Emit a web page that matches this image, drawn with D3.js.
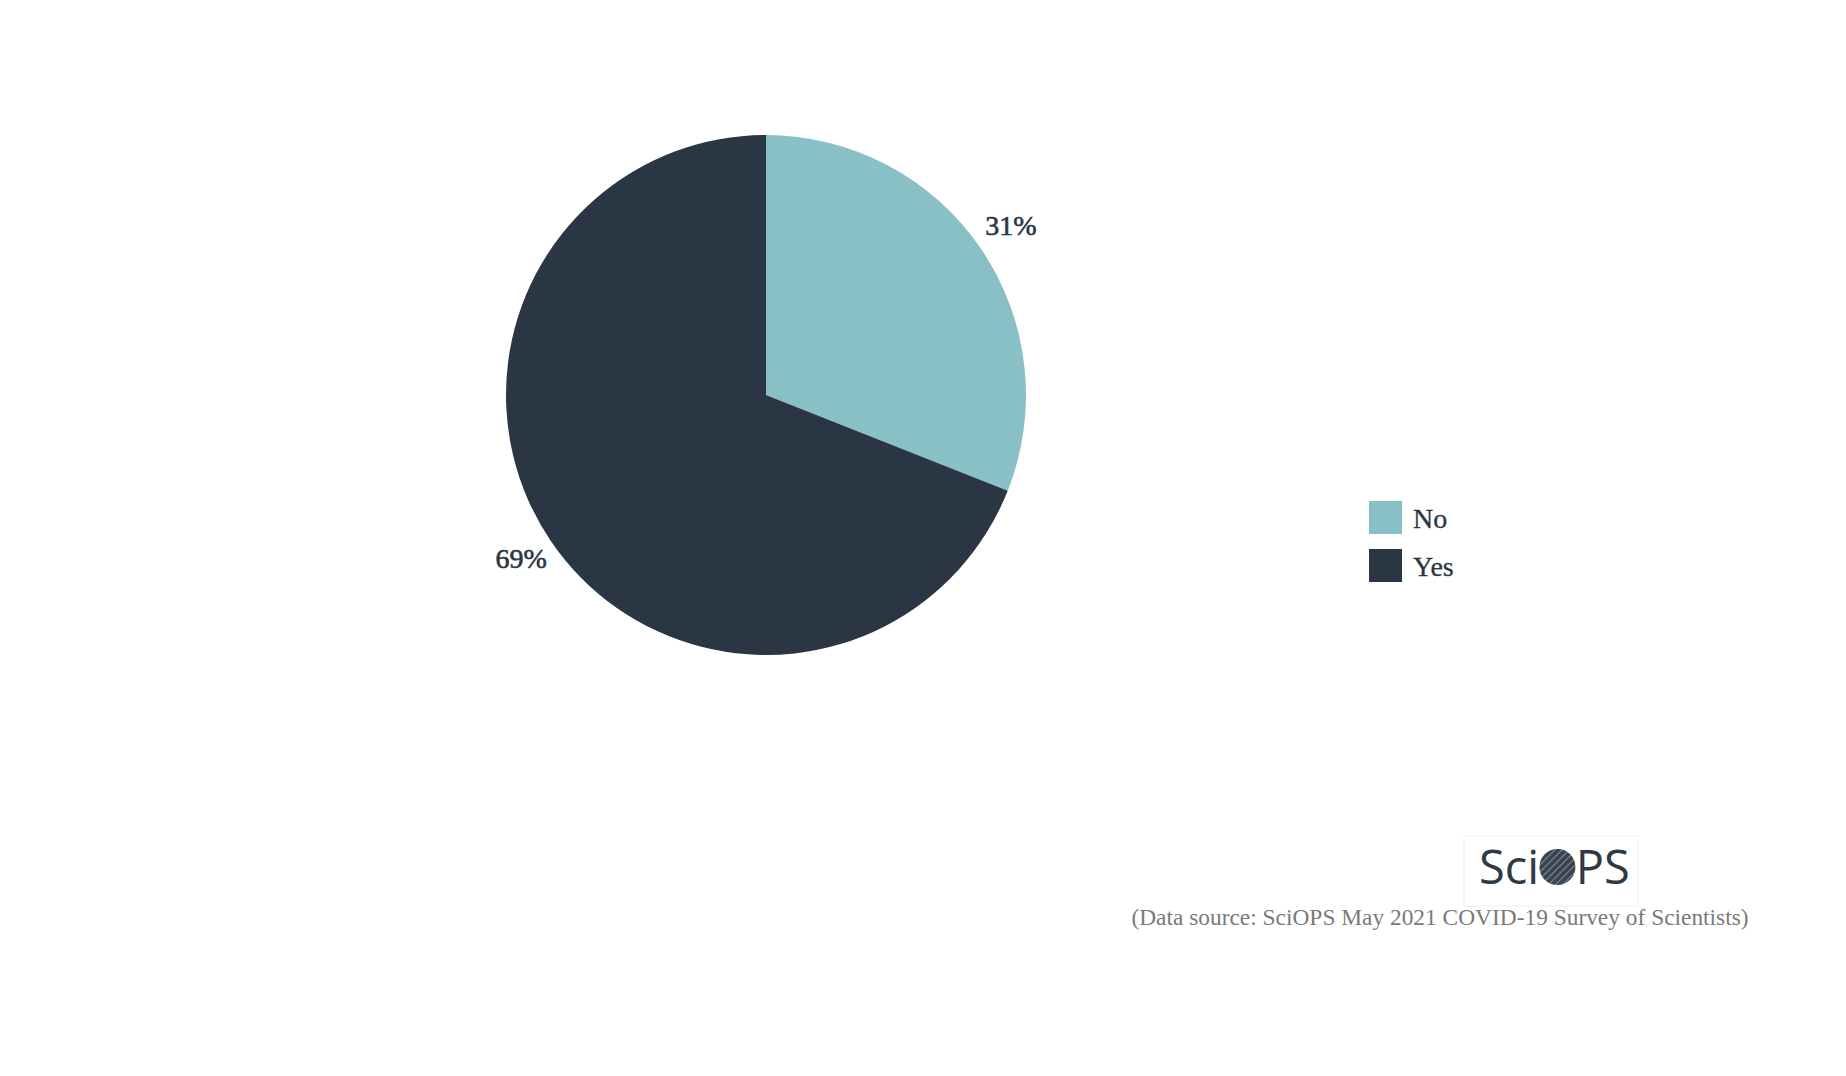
<!DOCTYPE html>
<html><head><meta charset="utf-8">
<script src="https://cdn.jsdelivr.net/npm/d3@7"></script>
<style>html,body{margin:0;padding:0;background:#fff;}</style>
</head><body>
<svg id="chart" width="1846" height="1076"></svg>
<script>
const categories = ["No", "Yes"];
const values = [31, 69];
const labels = ["31%", "69%"];
const colors = ["#89c0c5", "#2b3645"];
const sourceText = "(Data source: SciOPS May 2021 COVID-19 Survey of Scientists)";

const svg = d3.select("#chart");
const cx = 766, cy = 395, r = 260, labelR = 296;
const color = d3.scaleOrdinal().domain(categories).range(colors);
const data = categories.map((c, i) => ({cat: c, value: values[i], label: labels[i]}));
const pie = d3.pie().value(d => d.value).sort(null);
const arcs = pie(data);
const arc = d3.arc().innerRadius(0).outerRadius(r);
const labelArc = d3.arc().innerRadius(labelR).outerRadius(labelR);

const g = svg.append("g").attr("transform", `translate(${cx},${cy})`);
g.selectAll("path").data(arcs).join("path")
  .attr("d", arc).attr("fill", d => color(d.data.cat));
g.selectAll("text").data(arcs).join("text")
  .attr("transform", d => { const c = labelArc.centroid(d); return `translate(${c[0]},${c[1] - 3})`; })
  .attr("text-anchor", "middle").attr("dominant-baseline", "central")
  .attr("font-family", "Liberation Serif, Times New Roman, serif")
  .attr("font-size", 28).attr("fill", "#2b3645")
  .attr("stroke", "#2b3645").attr("stroke-width", 0.6)
  .text(d => d.data.label);

// legend
const lg = svg.append("g").attr("transform", "translate(1369,501)");
const items = lg.selectAll("g").data(categories).join("g")
  .attr("transform", (d, i) => `translate(0,${i * 48})`);
items.append("rect").attr("width", 33).attr("height", 33).attr("fill", d => color(d));
items.append("text").attr("x", 44).attr("y", 17).attr("dominant-baseline", "central")
  .attr("font-family", "Liberation Serif, Times New Roman, serif")
  .attr("font-size", 28).attr("fill", "#2b3645")
  .attr("stroke", "#2b3645").attr("stroke-width", 0.3).text(d => d);

// logo
const logo = svg.append("g");
logo.append("rect").attr("x", 1464).attr("y", 836).attr("width", 174).attr("height", 70)
  .attr("fill", "none").attr("stroke", "#f0f0f0").attr("stroke-width", 1);
const logoText = logo.append("text").attr("x", 1479).attr("y", 884)
  .attr("font-family", "Open Sans, sans-serif").attr("font-size", 47).attr("fill", "#2f3a45");
logoText.append("tspan").text("Sci");
logoText.append("tspan").text("O");
logoText.append("tspan").text("PS");
const node = logoText.node();
const oStart = node.getSubStringLength(0, 3);
const oLen = node.getSubStringLength(3, 1);
const defs = svg.append("defs");
const pat = defs.append("pattern").attr("id", "hatch").attr("patternUnits", "userSpaceOnUse")
  .attr("width", 5).attr("height", 5).attr("patternTransform", "rotate(45)");
pat.append("rect").attr("width", 5).attr("height", 5).attr("fill", "#3a4450");
pat.append("line").attr("x1", 0).attr("y1", 0).attr("x2", 0).attr("y2", 5)
  .attr("stroke", "#9aa3aa").attr("stroke-width", 1.5);
logo.append("circle").attr("cx", 1479 + oStart + oLen / 2).attr("cy", 884 - 17)
  .attr("r", 18).attr("fill", "url(#hatch)");

svg.append("text").attr("x", 1440).attr("y", 917).attr("text-anchor", "middle")
  .attr("dominant-baseline", "central")
  .attr("font-family", "Liberation Serif, Times New Roman, serif")
  .attr("font-size", 23.4).attr("fill", "#7a7a7a").text(sourceText);
</script>
</body></html>
